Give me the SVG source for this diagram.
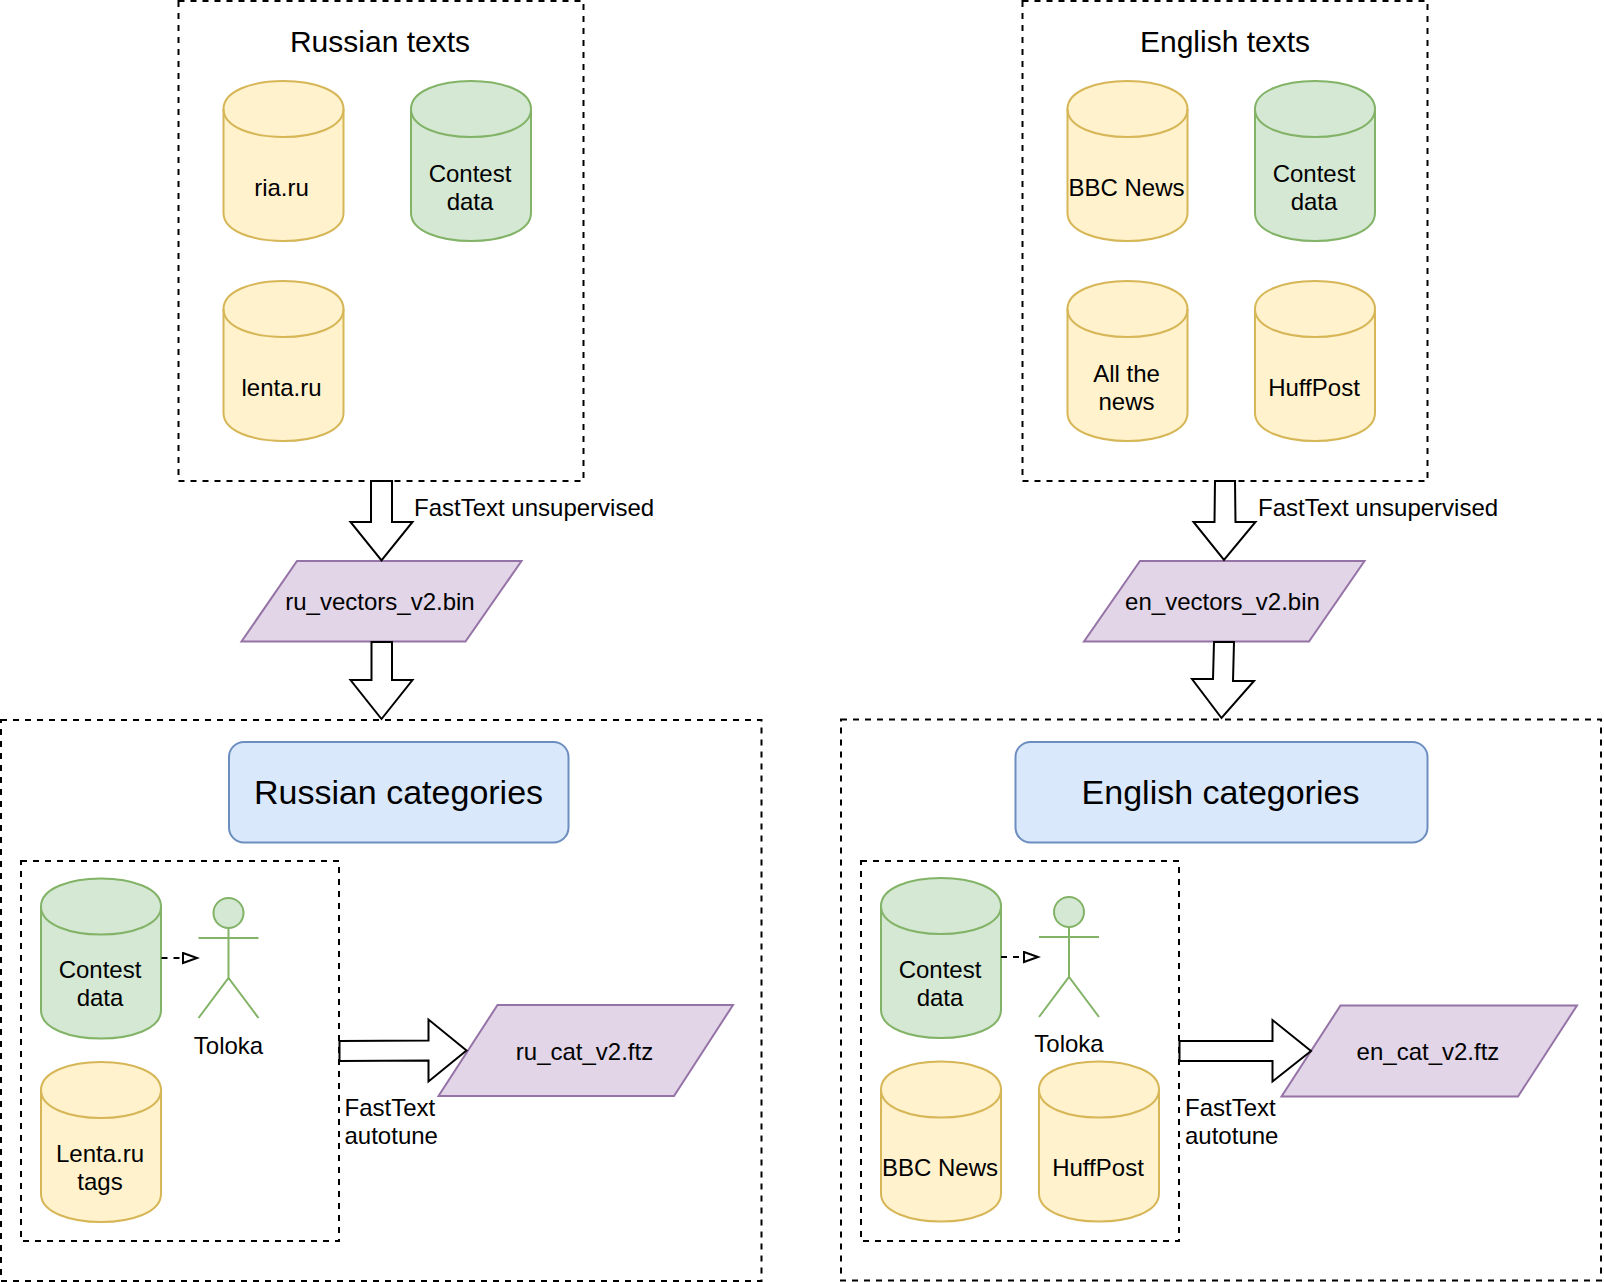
<svg xmlns="http://www.w3.org/2000/svg" width="1604" height="1282" viewBox="0 0 1604 1282">
<style>
text{font-family:"Liberation Sans",Arial,sans-serif;font-size:24px;fill:#000;text-anchor:middle}
.title{font-size:30px}.head{font-size:34px}.l{text-anchor:start}
.box{fill:none;stroke:#000;stroke-width:2;stroke-dasharray:6 6}
.y{fill:#fff2cc;stroke:#d6b656;stroke-width:2}
.g{fill:#d5e8d4;stroke:#82b366;stroke-width:2}
.p{fill:#e1d5e7;stroke:#9673a6;stroke-width:2}
.b{fill:#dae8fc;stroke:#6c8ebf;stroke-width:2}
.a{fill:#fff;stroke:#000;stroke-width:2;stroke-linejoin:miter}
.actor{fill:none;stroke:#82b366;stroke-width:2}
.d{fill:none;stroke:#000;stroke-width:2;stroke-dasharray:6 6}
.n{fill:none}
</style>
<defs>
<g id="cyl"><path d="M0 28C0-9.300 120-9.300 120 28V132C120 169.300 0 169.300 0 132Z"/><path class="n" d="M0 28C0 65.300 120 65.300 120 28"/></g>
<g id="man"><ellipse class="g" cx="30" cy="15" rx="15" ry="15"/><path d="M30 30V80M0 40H60M0 120L30 80L60 120"/></g>
<marker id="tri" markerWidth="18" markerHeight="14" refX="15" refY="6" orient="auto" markerUnits="userSpaceOnUse"><path d="M1 1L15 6L1 11Z" fill="#fff" stroke="#000" stroke-width="2"/></marker>
</defs>

<g id="russian-texts"><rect class="box" x="178.500" y="1" width="405" height="480"/><text class="title" x="380" y="52">Russian texts</text></g>
<g id="ru-ria" transform="translate(223.500 81)"><use href="#cyl" class="y"/><text x="58" y="115">ria.ru</text></g>
<g id="ru-contest" transform="translate(411 81)"><use href="#cyl" class="g"/><text x="59" y="101">Contest</text><text x="59" y="129">data</text></g>
<g id="ru-lenta" transform="translate(223.500 281)"><use href="#cyl" class="y"/><text x="58" y="115">lenta.ru</text></g>

<g id="english-texts"><rect class="box" x="1022.500" y="1" width="405" height="480"/><text class="title" x="1225" y="52">English texts</text></g>
<g id="en-bbc" transform="translate(1067.500 81)"><use href="#cyl" class="y"/><text x="59" y="115">BBC News</text></g>
<g id="en-contest" transform="translate(1255 81)"><use href="#cyl" class="g"/><text x="59" y="101">Contest</text><text x="59" y="129">data</text></g>
<g id="en-allnews" transform="translate(1067.500 281)"><use href="#cyl" class="y"/><text x="59" y="101">All the</text><text x="59" y="129">news</text></g>
<g id="en-huffpost" transform="translate(1255 281)"><use href="#cyl" class="y"/><text x="59" y="115">HuffPost</text></g>

<g id="ru-vectors"><polygon class="p" points="297,561 521.500,561 465.500,641.500 241.500,641.500"/><text x="380" y="610">ru_vectors_v2.bin</text></g>
<g id="en-vectors"><polygon class="p" points="1140,561 1364.500,561 1309,641.500 1084,641.500"/><text x="1222.500" y="610">en_vectors_v2.bin</text></g>

<g id="russian-categories"><rect class="box" x="1" y="720" width="760.500" height="561"/></g>
<g id="ru-cat-title"><rect class="b" x="229" y="742" width="339.500" height="100.500" rx="15"/><text class="head" x="398.500" y="804">Russian categories</text></g>
<g id="ru-inputs"><rect class="box" x="21" y="861" width="318" height="380"/></g>
<g id="ru-cat-contest" transform="translate(41 878.500)"><use href="#cyl" class="g"/><text x="59" y="99">Contest</text><text x="59" y="127">data</text></g>
<g id="ru-toloka" transform="translate(198.500 898)"><use href="#man" class="actor"/><text x="30" y="156">Toloka</text></g>
<g id="ru-lenta-tags" transform="translate(41 1062)"><use href="#cyl" class="y"/><text x="59" y="100">Lenta.ru</text><text x="59" y="128">tags</text></g>
<g id="ru-cat"><polygon class="p" points="497.500,1005 733,1005 674,1096 438.500,1096"/><text x="584.500" y="1060">ru_cat_v2.ftz</text></g>

<g id="english-categories"><rect class="box" x="841" y="719.500" width="760" height="561"/></g>
<g id="en-cat-title"><rect class="b" x="1015.500" y="742" width="412" height="100.500" rx="15"/><text class="head" x="1220.500" y="804">English categories</text></g>
<g id="en-inputs"><rect class="box" x="861" y="861" width="318" height="380"/></g>
<g id="en-cat-contest" transform="translate(881 878)"><use href="#cyl" class="g"/><text x="59" y="100">Contest</text><text x="59" y="128">data</text></g>
<g id="en-toloka" transform="translate(1039 897)"><use href="#man" class="actor"/><text x="30" y="155">Toloka</text></g>
<g id="en-cat-bbc" transform="translate(881 1061.500)"><use href="#cyl" class="y"/><text x="59" y="114.500">BBC News</text></g>
<g id="en-cat-huffpost" transform="translate(1039 1061.500)"><use href="#cyl" class="y"/><text x="59" y="114.500">HuffPost</text></g>
<g id="en-cat"><polygon class="p" points="1340.500,1005.500 1577,1005.500 1518,1096.500 1281.500,1096.500"/><text x="1428" y="1060">en_cat_v2.ftz</text></g>

<g id="connectors">
<path class="a" d="M371.500 481H392V522H412.500L381.500 560.500L350.500 522H371V481Z"/>
<path class="a" d="M371.500 642H392V680H412.500L381.500 719L350.500 680H371.500Z"/>
<path class="a" d="M1215 481H1235L1235.500 522H1255.500L1224 560L1193.500 522H1214.500Z"/>
<path class="a" d="M1214 642H1234L1233 681H1254L1221.500 718L1192 679H1213Z"/>
<path class="a" d="M339.500 1041L428.500 1040.500V1019.500L466.500 1050.500L428.500 1081.500V1060.500L339.500 1061Z"/>
<path class="a" d="M1179.500 1041H1272.500V1020L1311 1051L1272.500 1081.500V1061H1179.500Z"/>
<line class="d" x1="161.500" y1="958" x2="197" y2="958" marker-end="url(#tri)"/>
<line class="d" x1="1001" y1="957" x2="1038" y2="957" marker-end="url(#tri)"/>
<text class="l" x="414" y="516">FastText unsupervised</text>
<text class="l" x="1258" y="516">FastText unsupervised</text>
<text class="l" x="344.500" y="1116">FastText</text><text class="l" x="344.500" y="1144">autotune</text>
<text class="l" x="1185" y="1116">FastText</text><text class="l" x="1185" y="1144">autotune</text>
</g>
</svg>
